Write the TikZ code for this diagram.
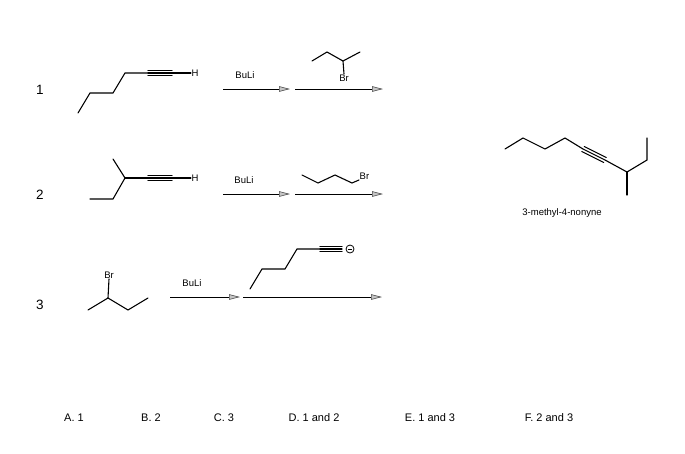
\documentclass[tikz,border=0pt]{standalone}
\usepackage{fontspec}
\setmainfont{Liberation Sans}
\usetikzlibrary{arrows.meta,calc}
\tikzset{bond/.style={line width=1.1pt,line cap=round},
rxn/.style={line width=1pt,-{Triangle[length=11pt,width=5.5pt,fill=gray!45,color=gray!60!black,line width=0.6pt]}},
lbl/.style={font=\fontsize{9.5}{11}\selectfont,inner sep=0.5pt},
num/.style={font=\fontsize{13.5}{15}\selectfont},
ans/.style={font=\fontsize{11}{13}\selectfont}}
\newcommand{\tbond}[2]{\draw[bond] (#1)--(#2);
\draw[bond] ($(#1)!2.8pt!90:(#2)$)--($(#2)!2.8pt!-90:(#1)$);
\draw[bond] ($(#1)!2.8pt!-90:(#2)$)--($(#2)!2.8pt!90:(#1)$);}
\begin{document}
\begin{tikzpicture}[x=1pt,y=-1pt]
\useasboundingbox (0,0) rectangle (685,453);
% row 1
\node[num] (n1) at (40,90) {1};
\coordinate (a1) at (78,113); \coordinate (a2) at (90,93); \coordinate (a3) at (113,93);
\coordinate (a4) at (125,73); \coordinate (a5) at (148,73); \coordinate (a6) at (172,73);
\node[lbl] (aH) at (195,73) {H};
\draw[bond] (a1)--(a2)--(a3)--(a4)--(a5); \tbond{a5}{a6} \draw[bond] (a6)--(aH);
\coordinate (r1a) at (223,89); \coordinate (r1b) at (290,89);
\coordinate (r1c) at (295,89); \coordinate (r1d) at (383,89);
\draw[rxn] (r1a)--(r1b); \draw[rxn] (r1c)--(r1d);
\node[lbl] (bu1) at (245,75) {BuLi};
\coordinate (b1) at (312,61); \coordinate (b2) at (327,52); \coordinate (b3) at (343,61); \coordinate (b4) at (360,52);
\node[lbl] (bBr) at (344,78) {Br};
\draw[bond] (b1)--(b2)--(b3)--(b4); \draw[bond] (b3)--(bBr.north);
% row 2
\node[num] (n2) at (40,195) {2};
\coordinate (c1) at (90,199); \coordinate (c2) at (113,199); \coordinate (c3) at (125,178);
\coordinate (c4) at (113,159); \coordinate (c5) at (148,178); \coordinate (c6) at (172,178);
\node[lbl] (cH) at (195,178) {H};
\draw[bond] (c1)--(c2)--(c3)--(c4); \draw[bond] (c3)--(c5); \tbond{c5}{c6} \draw[bond] (c6)--(cH);
\coordinate (r2a) at (223,194); \coordinate (r2b) at (290,194);
\coordinate (r2c) at (295,194); \coordinate (r2d) at (383,194);
\draw[rxn] (r2a)--(r2b); \draw[rxn] (r2c)--(r2d);
\node[lbl] (bu2) at (244,180) {BuLi};
\coordinate (d1) at (302,175); \coordinate (d2) at (318,183); \coordinate (d3) at (335,175); \coordinate (d4) at (352,183);
\node[lbl,anchor=south west] (dBr) at (359,180) {Br};
\draw[bond] (d1)--(d2)--(d3)--(d4)--(dBr.south west);
% row 3
\node[num] (n3) at (40,305) {3};
\coordinate (e1) at (88,310); \coordinate (e2) at (108,298); \coordinate (e3) at (128,310); \coordinate (e4) at (148,298);
\node[lbl] (eBr) at (109,275) {Br};
\draw[bond] (e1)--(e2)--(e3)--(e4); \draw[bond] (e2)--(eBr.south);
\coordinate (r3a) at (170,297); \coordinate (r3b) at (240,297);
\coordinate (r3c) at (243,297); \coordinate (r3d) at (382,297);
\draw[rxn] (r3a)--(r3b); \draw[rxn] (r3c)--(r3d);
\node[lbl] (bu3) at (192,283) {BuLi};
\coordinate (f1) at (250,289); \coordinate (f2) at (262,269); \coordinate (f3) at (285,269);
\coordinate (f4) at (297,249); \coordinate (f5) at (320,249); \coordinate (f6) at (342,249);
\draw[bond] (f1)--(f2)--(f3)--(f4)--(f5); \tbond{f5}{f6}
\node[draw,circle,line width=0.8pt,inner sep=0pt,minimum size=8pt] (fm) at (350,249) {};
\draw[line width=1pt] ($(fm)+(-2.2,0)$)--($(fm)+(2.2,0)$);
% product
\coordinate (p1) at (505,149); \coordinate (p2) at (523,138); \coordinate (p3) at (545,149);
\coordinate (p4) at (565,138); \coordinate (p5) at (583,149); \coordinate (p6) at (605,160);
\coordinate (p7) at (627,172); \coordinate (p8) at (647,160); \coordinate (p9) at (647,138); \coordinate (p10) at (627,195);
\draw[bond] (p1)--(p2)--(p3)--(p4)--(p5); \tbond{p5}{p6} \draw[bond] (p6)--(p7)--(p8)--(p9); \draw[bond] (p7)--(p10);
\node[lbl] (pname) at (562,213) {3-methyl-4-nonyne};
% answers
\node[ans] (A) at (74,418) {A. 1};
\node[ans] (B) at (151,418) {B. 2};
\node[ans] (C) at (224,418) {C. 3};
\node[ans] (D) at (314,418) {D. 1 and 2};
\node[ans] (E) at (430,418) {E. 1 and 3};
\node[ans] (F) at (549,418) {F. 2 and 3};
\end{tikzpicture}
\end{document}
